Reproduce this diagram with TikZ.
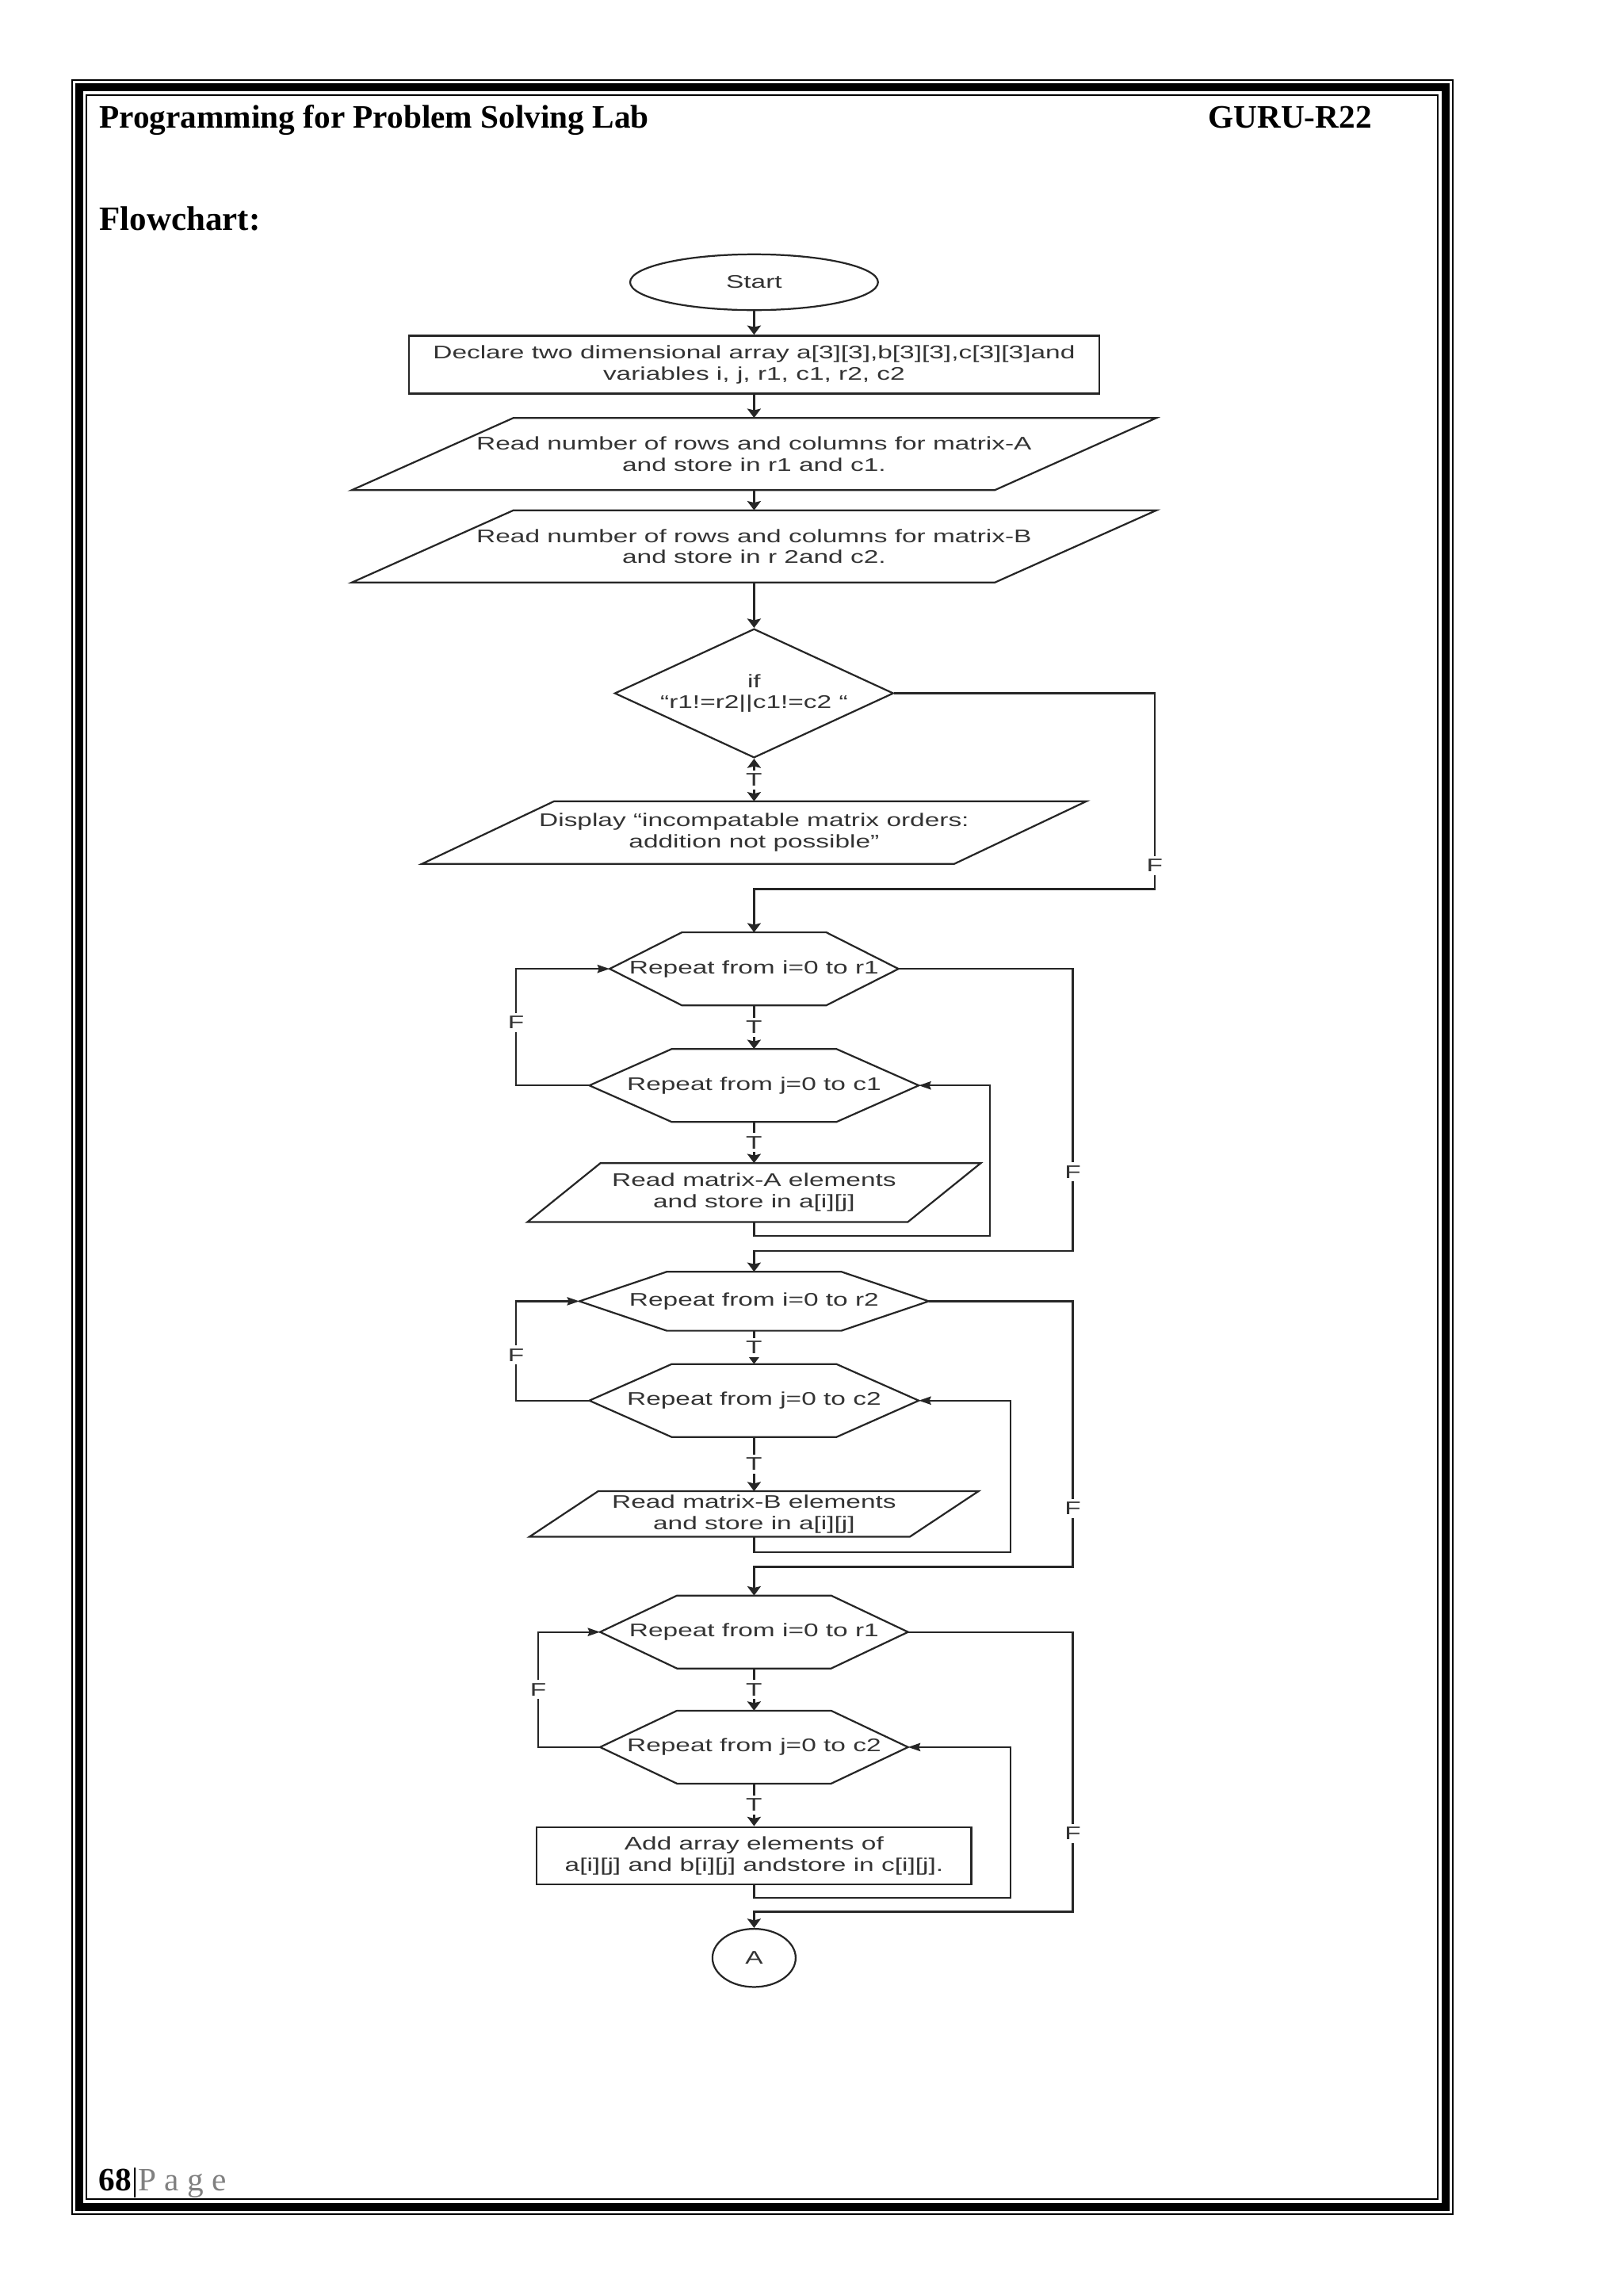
\documentclass[tikz,border=0pt]{standalone}
\usepackage{fontspec}
\setmainfont{Liberation Serif}
\newfontfamily\chartfont[FakeStretch=1.45]{Liberation Sans}
\usetikzlibrary{shapes,arrows.meta,positioning,calc}
\newdimen\dpx \dpx=0.54116pt
\definecolor{pagegray}{gray}{0.5}

\begin{document}
\begin{tikzpicture}[
    x=0.54116pt, y=-0.54116pt,
    chart/.style={font=\chartfont\fontsize{6.7}{7.8}\selectfont, text=black!80, inner sep=0pt, align=center},
    wire/.style={draw=black!85, line width=0.65pt},
    procbox/.style={chart, wire, rectangle},
    iobox/.style={chart, rectangle},
    loopbox/.style={chart, rectangle},
    decision/.style={chart, wire, diamond, aspect=2.15},
    terminal/.style={chart, wire, ellipse},
    tf/.style={chart, fill=white, inner sep=1.2pt},
    arrow/.style={wire, -{Stealth[length=3.4pt, width=5pt, inset=0.6pt]}},
    sidearrow/.style={wire, -{Stealth[length=4.5pt, width=3pt, inset=0.6pt]}}
]
\useasboundingbox (0,0) rectangle (1100,1554.9);

% Page frame
\draw[line width=0.6pt] (48.7,54.2) rectangle (984.5,1500);
\draw[line width=2.9pt] (53.5,59.0) rectangle (979.7,1495.2);
\draw[line width=0.6pt] (58.7,64.2) rectangle (974.5,1490);

% Header
\node[anchor=base west, font=\fontsize{12}{14}\selectfont\bfseries, inner sep=0pt] (course) at (67,86.5) {Programming for Problem Solving Lab};
\node[anchor=base east, font=\fontsize{12}{14}\selectfont\bfseries, inner sep=0pt] (reg) at (930,86.5) {GURU-R22};
\node[anchor=base west, font=\fontsize{12.5}{15}\selectfont\bfseries, inner sep=0pt] (heading) at (67,156) {Flowchart:};

% Start and declarations
\node[terminal, minimum width=168*\dpx, minimum height=37.8*\dpx] (start) at (511,191.2) {Start};
\node[procbox, minimum width=468*\dpx, minimum height=39.2*\dpx] (decl) at (511,247) {Declare two dimensional array a[3][3],b[3][3],c[3][3]and\\variables i, j, r1, c1, r2, c2};

% Read orders
\node[iobox, minimum width=435*\dpx, minimum height=48.2*\dpx] (reada) at (511,307.6) {Read number of rows and columns for matrix-A\\and store in r1 and c1.};
\node[iobox, minimum width=435*\dpx, minimum height=48.2*\dpx] (readb) at (511,370.2) {Read number of rows and columns for matrix-B\\and store in r 2and c2.};

% Check orders
\node[decision, minimum width=189*\dpx, minimum height=87.4*\dpx] (cond) at (511,469.7) {if\\“r1!=r2||c1!=c2 “};
\node[iobox, minimum width=360*\dpx, minimum height=41.7*\dpx] (msg) at (511,564.1) {Display “incompatable matrix orders:\\addition not possible”};

% Loops for matrix-A
\node[loopbox, minimum width=195*\dpx, minimum height=48.7*\dpx] (ia) at (511,656.4) {Repeat from i=0 to r1};
\node[loopbox, minimum width=222.5*\dpx, minimum height=48.7*\dpx] (ja) at (511,735.4) {Repeat from j=0 to c1};
\node[iobox, minimum width=257*\dpx, minimum height=39.2*\dpx] (elema) at (511,808) {Read matrix-A elements\\and store in a[i][j]};

% Loops for matrix-B
\node[loopbox, minimum width=236*\dpx, minimum height=39.2*\dpx] (ib) at (511,881.6) {Repeat from i=0 to r2};
\node[loopbox, minimum width=222.5*\dpx, minimum height=48.7*\dpx] (jb) at (511,948.9) {Repeat from j=0 to c2};
\node[iobox, minimum width=257*\dpx, minimum height=30.1*\dpx] (elemb) at (511,1025.7) {Read matrix-B elements\\and store in a[i][j]};

% Loops for addition
\node[loopbox, minimum width=208*\dpx, minimum height=48.7*\dpx] (ic) at (511,1105.7) {Repeat from i=0 to r1};
\node[loopbox, minimum width=208*\dpx, minimum height=48.7*\dpx] (jc) at (511,1183.7) {Repeat from j=0 to c2};
\node[procbox, minimum width=294.5*\dpx, minimum height=39*\dpx] (add) at (511,1257.3) {Add array elements of\\a[i][j] and b[i][j] andstore in c[i][j].};
\node[terminal, minimum width=56.4*\dpx, minimum height=39.4*\dpx] (conn) at (511,1326.5) {A};

% Hexagon outlines
\foreach \h in {ia,ja,ib,jb,ic,jc}
  \draw[wire] (\h.west) -- ($(\h.north west)!0.25!(\h.north east)$) -- ($(\h.north west)!0.75!(\h.north east)$) -- (\h.east) -- ($(\h.south west)!0.75!(\h.south east)$) -- ($(\h.south west)!0.25!(\h.south east)$) -- cycle;

% Parallelogram outlines
\foreach \p/\s in {reada/109.6, readb/109.6, msg/89.6, elema/49.5, elemb/46.5}
  \draw[wire] ($(\p.north west)+(\s/2,0)$) -- ($(\p.north east)+(\s/2,0)$) -- ($(\p.south east)-(\s/2,0)$) -- ($(\p.south west)-(\s/2,0)$) -- cycle;

% Bend points
\coordinate (fback) at (782.5,602.3);
\coordinate (fa) at (727,847.5);
\coordinate (fb) at (727,1061.5);
\coordinate (fc) at (727,1295.2);
\coordinate (la) at (349.7,656.4);
\coordinate (lb) at (349.7,881.6);
\coordinate (lc) at (364.7,1105.7);
\coordinate (ba) at (671,837.5);
\coordinate (bb) at (685,1051.6);
\coordinate (bc) at (685,1285.6);

% Top arrows
\draw[arrow] (start) -- (decl);
\draw[arrow] (decl) -- (reada);
\draw[arrow] (reada) -- (readb);
\draw[arrow] (readb) -- (cond);
\draw[wire, {Stealth[length=3.4pt, width=5pt, inset=0.6pt]}-{Stealth[length=3.4pt, width=5pt, inset=0.6pt]}] (cond) -- node[tf] {T} (msg);
\draw[arrow] (cond.east) -| node[tf, pos=0.94] {F} (fback) -- (fback -| ia.north) -- (ia.north);

% Matrix-A arrows
\draw[arrow] (ia) -- node[tf] {T} (ja);
\draw[arrow] (ja) -- node[tf] {T} (elema);
\draw[sidearrow] (elema) |- (ba) |- (ja.east);
\draw[sidearrow] (ja.west) -| node[tf, pos=0.77] {F} (la) -- (ia.west);
\draw[arrow] (ia.east) -| node[tf, pos=0.86] {F} (fa) -- (fa -| ib.north) -- (ib.north);

% Matrix-B arrows
\draw[arrow] (ib) -- node[tf] {T} (jb);
\draw[arrow] (jb) -- node[tf] {T} (elemb);
\draw[sidearrow] (elemb) |- (bb) |- (jb.east);
\draw[sidearrow] (jb.west) -| node[tf, pos=0.73] {F} (lb) -- (ib.west);
\draw[arrow] (ib.east) -| node[tf, pos=0.89] {F} (fb) -- (fb -| ic.north) -- (ic.north);

% Addition arrows
\draw[arrow] (ic) -- node[tf] {T} (jc);
\draw[arrow] (jc) -- node[tf] {T} (add);
\draw[sidearrow] (add) |- (bc) |- (jc.east);
\draw[sidearrow] (jc.west) -| node[tf, pos=0.75] {F} (lc) -- (ic.west);
\draw[arrow] (ic.east) -| node[tf, pos=0.86] {F} (fc) -- (fc -| conn.north) -- (conn.north);

% Footer
\node[anchor=base west, font=\fontsize{12}{14}\selectfont, inner sep=0pt] (pageno) at (66.7,1484) {\textbf{68}|\textcolor{pagegray}{P a g e}};

\end{tikzpicture}
\end{document}
